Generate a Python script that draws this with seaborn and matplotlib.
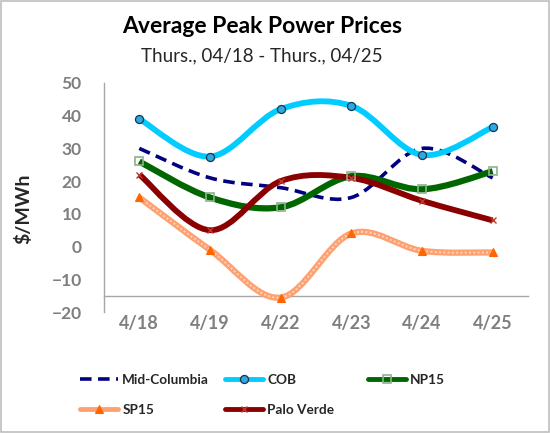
import numpy as np
import pandas as pd
import matplotlib
matplotlib.use("Agg")
import matplotlib.pyplot as plt
from matplotlib.path import Path
from matplotlib.patches import PathPatch
from matplotlib.lines import Line2D
import seaborn as sns

# ---------------- data ----------------
dates = ["4/18", "4/19", "4/22", "4/23", "4/24", "4/25"]
mid_columbia = [30, 21, 18, 15, 30, 21]
cob = [39, 27.5, 42, 43, 28, 36.5]
np15 = [26, 15, 12, 21.5, 17.5, 23]
sp15 = [15, -1, -15.6, 4, -1.3, -1.8]
palo_verde = [22, 5, 20, 21, 14, 8]

title = "Average Peak Power Prices"
subtitle = "Thurs., 04/18 - Thurs., 04/25"
ylabel = "$/MWh"
yticks = [-20, -10, 0, 10, 20, 30, 40, 50]

series_names = ["Mid-Columbia", "COB", "NP15", "SP15", "Palo Verde"]
series_vals = [mid_columbia, cob, np15, sp15, palo_verde]

df = pd.DataFrame({"date": dates * len(series_names),
                   "pos": list(range(len(dates))) * len(series_names),
                   "series": [n for n in series_names for _ in dates],
                   "value": [v for vals in series_vals for v in vals]})

sns.set_theme(style="white")
plt.rcParams["font.family"] = ["Lato", "DejaVu Sans"]

styles = {
    "Mid-Columbia": dict(color="#000080", lw=2.6, ls=(0, (3.2, 1.8)), marker=None),
    "COB": dict(color="#00CCFF", lw=4.2, ls="-", marker="o", mfc="#29ABE2", mec="#1A3550", ms=5.8, mew=0.9),
    "NP15": dict(color="#006600", lw=4.5, ls="-", marker="s", mfc="none", mec="#8FB08F", ms=5.5, mew=1.2),
    "SP15": dict(color="#FFA070", lw=4.5, ls="-", marker="^", mfc="#FF6600", mec="#FF6600", ms=6.2, mew=0.8),
    "Palo Verde": dict(color="#8B0000", lw=4.2, ls="-", marker="x", mfc="#B22222", mec="#C0392B", ms=4.5, mew=1.0),
}

fig = plt.figure(figsize=(5.5, 4.33), dpi=100)
ax = fig.add_axes([0.189, 0.2794, 0.771, 0.529])


def smooth_path(xs, ys):
    # Excel-style smooth line: cubic Bezier segments with Catmull-Rom control points
    pts = np.column_stack([xs, ys]).astype(float)
    n = len(pts)
    verts = [pts[0]]
    codes = [Path.MOVETO]
    for i in range(n - 1):
        p0 = pts[i - 1] if i > 0 else pts[i]
        p1 = pts[i]
        p2 = pts[i + 1]
        p3 = pts[i + 2] if i + 2 < n else pts[i + 1]
        c1 = p1 + (p2 - p0) / 6.0
        c2 = p2 - (p3 - p1) / 6.0
        verts += [c1, c2, p2]
        codes += [Path.CURVE4] * 3
    return Path(verts, codes)


draw_order = ["SP15", "Mid-Columbia", "NP15", "Palo Verde", "COB"]
for name in draw_order:
    st = styles[name]
    sub = df[df.series == name]
    p = smooth_path(sub.pos.values, sub.value.values)
    ax.add_patch(PathPatch(p, fill=False, edgecolor=st["color"], lw=st["lw"],
                           linestyle=st["ls"], capstyle="butt", joinstyle="round", zorder=3))
    if name == "SP15":
        ax.add_patch(PathPatch(p, fill=False, edgecolor="#FFD6BE", lw=1.4,
                               linestyle=(0, (1, 1.2)), zorder=3.1))
    if st["marker"]:
        sns.lineplot(data=sub, x="pos", y="value", ax=ax, linestyle="none",
                     marker=st["marker"], markersize=st["ms"], markerfacecolor=st["mfc"],
                     markeredgecolor=st["mec"], markeredgewidth=st["mew"], color=st["mec"],
                     legend=False, zorder=4)

ax.set_xlim(-0.5, len(dates) - 0.5)
ax.set_ylim(-20, 50)
ax.set_xticks(range(len(dates)))
ax.set_xticklabels(dates)
ax.set_xticks([len(dates) - 0.5], minor=True)
ax.set_yticks(yticks)
ax.set_xlabel("")
ax.set_ylabel(ylabel, fontsize=14, fontweight="bold", color="#262626")
ax.yaxis.set_label_coords(-0.168, 0.45)

axis_gray = "#A6A6A6"
for s in ["top", "right"]:
    ax.spines[s].set_visible(False)
ax.spines["bottom"].set_position(("data", -15))
ax.spines["bottom"].set_color(axis_gray)
ax.spines["left"].set_color(axis_gray)
ax.spines["bottom"].set_linewidth(1.0)
ax.spines["left"].set_linewidth(1.0)

ax.tick_params(axis="x", which="both", direction="in", length=5, color=axis_gray,
               labelsize=13, labelcolor="#7F7F7F", pad=14)
ax.tick_params(axis="y", direction="out", length=6, color=axis_gray,
               labelsize=12.5, labelcolor="#7F7F7F", pad=10)
for lab in ax.get_xticklabels() + ax.get_yticklabels():
    lab.set_fontweight("bold")
ax.grid(False)

fig.text(0.476, 0.938, title, ha="center", va="center", fontsize=16.5, fontweight="bold", color="#000000")
fig.text(0.476, 0.871, subtitle, ha="center", va="center", fontsize=13.5, color="#262626")

# legend: one small legend per cell, laid out in rows like the reference
handles = {}
for name in series_names:
    st = styles[name]
    handles[name] = Line2D([], [], color=st["color"], lw=min(st["lw"], 3.5), linestyle=st["ls"],
                           marker=st["marker"] or "", markersize=st["ms"] if st["marker"] else 0,
                           markerfacecolor=st.get("mfc"), markeredgecolor=st.get("mec"),
                           markeredgewidth=st.get("mew", 1))
cells = {"Mid-Columbia": (80, 380), "COB": (225, 380), "NP15": (368, 380),
         "SP15": (80, 410), "Palo Verde": (225, 410)}
for name, (px, py) in cells.items():
    leg = fig.legend([handles[name]], [name], loc="center left",
                     bbox_to_anchor=(px / 550, 1 - py / 433), frameon=False, fontsize=9.8,
                     handlelength=2.8, handletextpad=0.3, borderpad=0, borderaxespad=0)
    for t in leg.get_texts():
        t.set_color("#262626")
        t.set_fontweight("bold")

# figure border
fig.patches.append(matplotlib.patches.Rectangle((0.002, 0.002), 0.996, 0.996, transform=fig.transFigure,
                                                fill=False, edgecolor="#BFBFBF", lw=1.2))

fig.savefig("out.png", dpi=100)
